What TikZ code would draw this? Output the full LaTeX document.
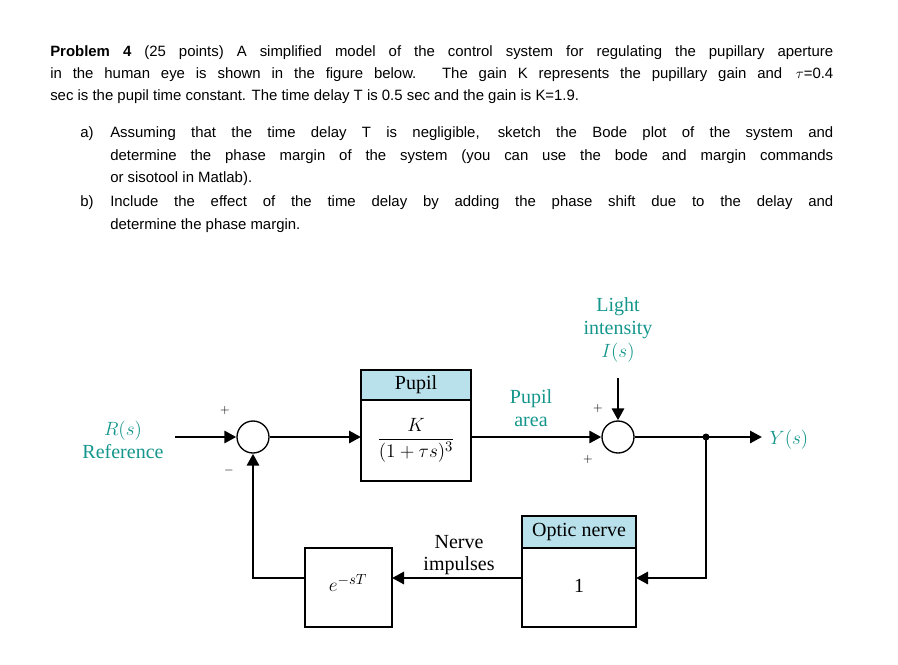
\documentclass[tikz,border=0pt]{standalone}
\usepackage{amsmath}
\usepackage{fontspec}
\setmainfont{Liberation Serif}
\newfontfamily\arialfont{Liberation Sans}
\usetikzlibrary{arrows.meta,positioning}
\definecolor{labteal}{RGB}{20,150,140}
\definecolor{headblue}{RGB}{185,225,235}
\begin{document}
\begin{tikzpicture}[x=0.75pt,y=-0.75pt,
    sig/.style={line width=2.2pt,-{Triangle[length=9pt,width=9pt]}},
    line/.style={line width=2.2pt},
    sumnode/.style={circle,draw,line width=1pt,minimum size=24pt,inner sep=0pt},
    box/.style={draw,line width=1pt,inner sep=0pt},
    lab/.style={text=labteal,font=\fontsize{15}{17}\selectfont,align=center},
    txt/.style={font=\fontsize{15}{17}\selectfont,align=center}]

    \useasboundingbox (0,0) rectangle (898,664);

    % Problem text
    \node[anchor=north west,inner sep=0pt,text width=783*0.75pt,align=justify,
          font=\arialfont\fontsize{11.2}{16.5}\selectfont] (prob) at (50,45)
      {\textbf{Problem 4} (25 points) A simplified model of the control system for regulating the pupillary aperture\linebreak
       in the human eye is shown in the figure below. The gain K represents the pupillary gain and \,$\tau$=0.4\linebreak
       sec is the pupil time constant. The time delay T is 0.5 sec and the gain is K=1.9.};
    \node[anchor=north west,inner sep=0pt,font=\arialfont\fontsize{11.2}{16.5}\selectfont] (qa) at (80,126) {a)};
    \node[anchor=north west,inner sep=0pt,text width=723*0.75pt,align=justify,
          font=\arialfont\fontsize{11.2}{17.2}\selectfont] (qatext) at (110,126)
      {Assuming that the time delay T is negligible, sketch the Bode plot of the system and\linebreak
       determine the phase margin of the system (you can use the bode and margin commands\linebreak
       or sisotool in Matlab).};
    \node[anchor=north west,inner sep=0pt,font=\arialfont\fontsize{11.2}{16.5}\selectfont] (qb) at (80,195) {b)};
    \node[anchor=north west,inner sep=0pt,text width=723*0.75pt,align=justify,
          font=\arialfont\fontsize{11.2}{17.2}\selectfont] (qbtext) at (110,195)
      {Include the effect of the time delay by adding the phase shift due to the delay and\linebreak
       determine the phase margin.};

    % Blocks
    \filldraw[box,fill=headblue] (361,370) rectangle (471,400);
    \draw[box] (361,400) rectangle (471,481);
    \node[txt] (pupilhead) at (416,385) {Pupil};
    \node[txt] (pupil) at (416,440) {$\dfrac{K}{(1+\tau s)^3}$};
    \coordinate (pupilin) at (361,437);
    \coordinate (pupilout) at (471,437);

    \filldraw[box,fill=headblue] (522,516) rectangle (636,548);
    \draw[box] (522,548) rectangle (636,627);
    \node[txt] (optichead) at (579,532) {Optic nerve};
    \node[txt] (optic) at (579,586) {1};
    \coordinate (opticin) at (636,578);
    \coordinate (opticout) at (522,578);

    \draw[box] (305,548) rectangle (392,627);
    \node[txt] (delay) at (348,583) {$e^{-sT}$};
    \coordinate (delayin) at (392,578);
    \coordinate (delayout) at (305,578);

    % Summing points
    \node[sumnode] (sumA) at (253,437) {};
    \node[sumnode] (sumB) at (618,437) {};
    \fill (706,437) circle (3.5) coordinate (branch);
    \coordinate (rin) at (175,437);
    \coordinate (yout) at (762,437);
    \coordinate (lin) at (618,378);

    % Connectors
    \draw[sig] (rin) -- (sumA);
    \draw[sig] (sumA) -- (pupilin);
    \draw[sig] (pupilout) -- (sumB);
    \draw[sig] (lin) -- (sumB);
    \draw[line] (sumB) -- (branch);
    \draw[sig] (branch) -- (yout);
    \draw[sig] (branch) |- (opticin);
    \draw[sig] (opticout) -- (delayin);
    \draw[sig] (delayout) -| (sumA);

    % Labels
    \node[lab] (rlab) at (123,440) {$R(s)$\\Reference};
    \node[lab] (ylab) at (789,440) {$Y(s)$};
    \node[lab] (llab) at (618,330) {Light\\intensity\\$I(s)$};
    \node[lab] (alab) at (531,408) {Pupil\\area};
    \node[txt] (nlab) at (459,555) {Nerve\\impulses};
    \node[font=\small] (pA) at (225,410) {$+$};
    \node[font=\small] (mA) at (229,470) {$-$};
    \node[font=\small] (pB1) at (598,408) {$+$};
    \node[font=\small] (pB2) at (588,459) {$+$};
\end{tikzpicture}
\end{document}
